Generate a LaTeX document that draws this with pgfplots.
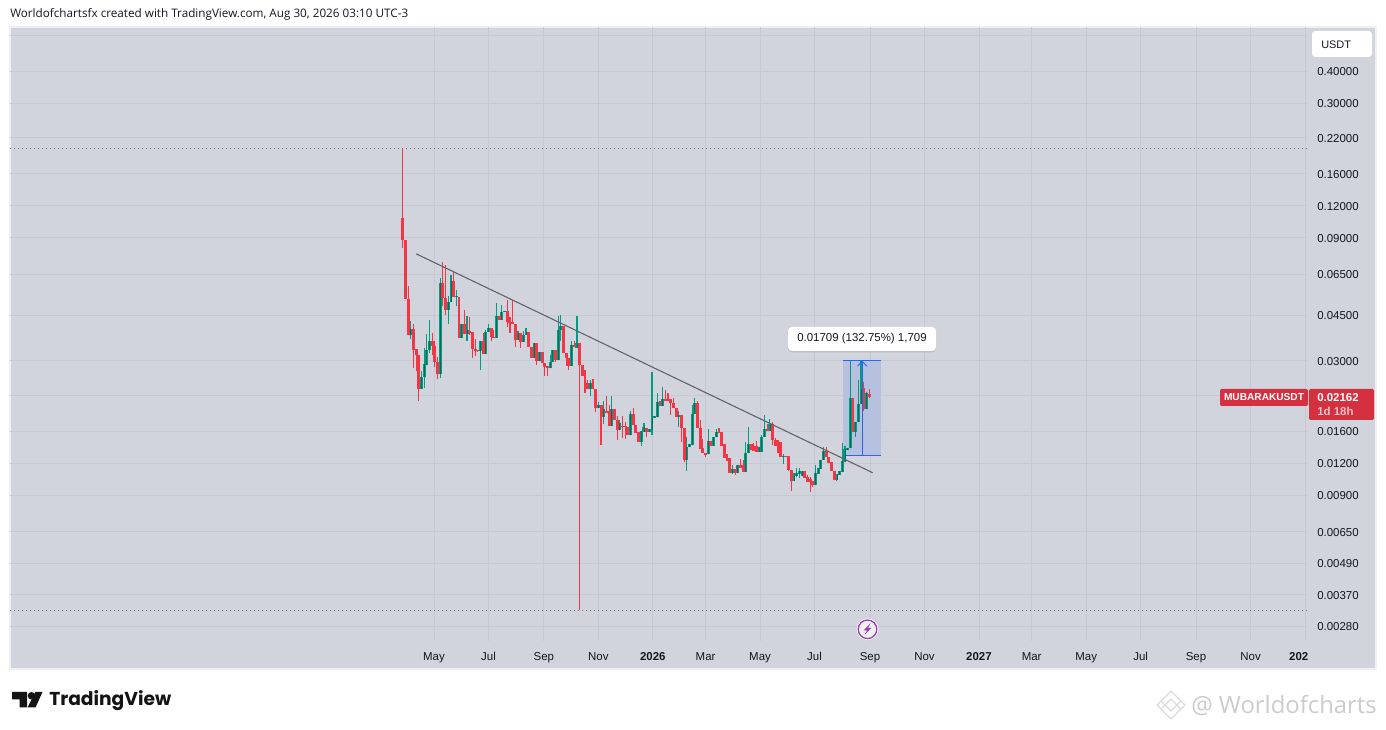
\documentclass[border=0pt]{standalone}
\usepackage{pgfplots}
\usepackage{pgfplotstable}
\pgfplotsset{compat=1.18}
\usepackage{fontspec}
\setmainfont{Liberation Sans}
\newfontfamily\tvfont{Poppins}
\newfontfamily\wmfont{Open Sans}
\usetikzlibrary{shadows,arrows.meta}
\definecolor{panel}{HTML}{D1D4DC}
\definecolor{gridc}{HTML}{C6C9D2}
\definecolor{txt}{HTML}{131722}
\definecolor{upc}{HTML}{089981}
\definecolor{updark}{HTML}{0A6A5C}
\definecolor{downc}{HTML}{F23645}
\definecolor{tagred}{HTML}{D5303F}
\definecolor{measure}{HTML}{2962FF}
\definecolor{boxfill}{HTML}{B6C1DF}
\definecolor{trend}{HTML}{5E6168}
\definecolor{bolt}{HTML}{9C3FB5}
% day = days since 1 May 2025; open high low close
\pgfplotstableread{
d O H L C
-26 .0376 .0428 .0365 .0398
-14 .0233 .0273 .0233 .0259
-11 .0259 .0336 .0236 .0291
-8 .0289 .0381 .0289 .0331
-5 .0329 .0432 .0322 .0358
7 .0266 .0631 .0257 .0600
16 .0473 .0537 .0418 .0507
19 .0505 .0647 .0505 .0611
25 .0532 .0566 .0490 .0537
31 .0369 .0418 .0369 .0418
37 .0382 .0446 .0359 .0393
52 .0327 .0358 .0277 .0358
58 .0318 .0396 .0318 .0389
61 .0389 .0418 .0389 .0403
70 .0369 .0503 .0369 .0449
76 .0433 .0495 .0433 .0465
79 .0465 .0469 .0465 .0469
94 .0362 .0390 .0362 .0385
100 .0355 .0392 .0355 .0379
103 .0379 .0403 .0379 .0388
112 .0308 .0350 .0308 .0350
118 .0298 .0324 .0298 .0324
130 .0280 .0317 .0280 .0296
133 .0296 .0330 .0296 .0330
139 .0303 .0449 .0303 .0393
142 .0393 .0452 .0357 .0410
154 .0286 .0359 .0286 .0345
160 .0336 .0449 .0336 .0350
175 .0232 .0253 .0218 .0246
184 .0196 .0208 .0196 .0202
190 .0182 .0209 .0171 .0194
199 .0167 .0219 .0167 .0195
208 .0162 .0177 .0162 .0172
220 .0154 .0192 .0154 .0187
232 .0145 .0160 .0140 .0160
235 .0159 .0172 .0159 .0166
241 .0159 .0163 .0159 .0163
244 .0162 .0272 .0154 .0180
247 .0180 .0183 .0180 .0183
250 .0181 .0224 .0181 .0208
256 .0200 .0237 .0200 .0213
274 .0182 .0191 .0166 .0184
283 .0124 .0152 .0112 .0139
286 .0139 .0143 .0139 .0143
289 .0141 .0202 .0141 .0187
292 .0187 .0215 .0187 .0205
307 .0130 .0163 .0130 .0146
313 .0140 .0151 .0140 .0151
316 .0151 .0163 .0151 .0159
334 .0110 .0118 .0109 .0114
340 .0110 .0118 .0110 .0118
349 .0111 .0145 .0111 .0132
352 .0132 .0166 .0132 .0143
364 .0133 .0139 .0133 .0139
367 .0133 .0154 .0133 .0151
370 .0151 .0185 .0151 .0163
376 .0160 .0178 .0160 .0170
391 .0127 .0130 .0119 .0128
403 .0102 .0110 .0102 .0107
406 .0107 .0115 .0106 .0110
409 .0109 .0115 .0105 .0112
412 .0107 .0112 .0107 .0112
427 .0099 .0118 .0099 .0110
430 .0109 .0115 .0109 .0115
433 .0114 .0124 .0114 .0124
436 .0124 .0139 .0124 .0134
451 .0103 .0109 .0102 .0109
454 .0108 .0112 .0108 .0112
457 .0111 .0144 .0111 .0122
460 .0121 .0140 .0121 .0136
463 .0135 .0137 .0135 .0137
466 .0137 .0299 .0137 .0214
472 .0158 .0174 .0152 .0174
475 .0174 .0253 .0174 .0204
478 .0204 .0299 .0204 .0233
484 .0195 .0227 .0195 .0225
}\upcandles
\pgfplotstableread{
d O H L C
-35 .1073 .2004 .0822 .0879
-32 .0885 .0885 .0521 .0521
-29 .0521 .0587 .0376 .0376
-23 .0398 .0418 .0282 .0329
-20 .0333 .0333 .0273 .0315
-17 .0315 .0315 .0209 .0233
-2 .0358 .0385 .0317 .0342
1 .0342 .0358 .0283 .0297
4 .0297 .0311 .0255 .0266
10 .0600 .0726 .0487 .0524
13 .0526 .0707 .0452 .0473
22 .0611 .0666 .0532 .0532
28 .0532 .0532 .0369 .0369
34 .0418 .0473 .0382 .0382
40 .0391 .0443 .0379 .0386
43 .0389 .0389 .0306 .0334
46 .0334 .0365 .0312 .0328
49 .0331 .0331 .0325 .0327
55 .0358 .0385 .0318 .0318
64 .0403 .0403 .0357 .0371
67 .0371 .0396 .0369 .0369
73 .0449 .0449 .0433 .0433
82 .0468 .0518 .0407 .0423
85 .0425 .0443 .0386 .0423
88 .0424 .0518 .0418 .0418
91 .0418 .0418 .0340 .0362
97 .0385 .0385 .0336 .0355
106 .0388 .0388 .0340 .0340
109 .0340 .0340 .0308 .0308
115 .0350 .0350 .0289 .0298
121 .0324 .0324 .0294 .0294
124 .0294 .0294 .0262 .0284
127 .0286 .0286 .0262 .0281
136 .0330 .0330 .0296 .0303
145 .0410 .0410 .0321 .0321
148 .0321 .0321 .0286 .0308
151 .0306 .0306 .0277 .0286
157 .0345 .0359 .0338 .0338
163 .0350 .0350 .00323 .0288
166 .0288 .0288 .0262 .0262
169 .0264 .0277 .0225 .0246
172 .0246 .0253 .0232 .0232
178 .0246 .0255 .0232 .0232
181 .0233 .0233 .0189 .0196
187 .0202 .0202 .0141 .0182
193 .0192 .0218 .0188 .0188
196 .0191 .0202 .0167 .0167
202 .0195 .0195 .0176 .0176
205 .0176 .0183 .0147 .0162
211 .0168 .0183 .0150 .0167
214 .0167 .0174 .0149 .0166
217 .0166 .0166 .0154 .0154
223 .0187 .0196 .0169 .0169
226 .0169 .0169 .0157 .0157
229 .0159 .0159 .0145 .0145
238 .0165 .0165 .0152 .0159
253 .0208 .0210 .0200 .0200
259 .0213 .0230 .0210 .0210
262 .0213 .0225 .0210 .0210
265 .0213 .0213 .0185 .0205
268 .0205 .0214 .0196 .0196
271 .0197 .0197 .0182 .0182
277 .0184 .0184 .0145 .0165
280 .0165 .0165 .0121 .0124
295 .0205 .0210 .0164 .0164
298 .0165 .0177 .0136 .0136
301 .0137 .0149 .0132 .0132
304 .0132 .0132 .0127 .0129
310 .0146 .0146 .0140 .0140
319 .0159 .0165 .0158 .0158
322 .0158 .0158 .0140 .0140
325 .0143 .0143 .0126 .0126
328 .0127 .0130 .0122 .0125
331 .0126 .0126 .0110 .0110
337 .0114 .0114 .0108 .0110
343 .0118 .0125 .0115 .0115
346 .0118 .0124 .0111 .0111
355 .0143 .0143 .0135 .0135
358 .0140 .0144 .0134 .0134
361 .0140 .0146 .0133 .0133
373 .0163 .0170 .0160 .0160
379 .0170 .0174 .0141 .0147
382 .0148 .0150 .0140 .0140
385 .0145 .0148 .0132 .0144
388 .0145 .0145 .0127 .0127
394 .0128 .0128 .0127 .0127
397 .0128 .0128 .0112 .0113
400 .0113 .0113 .0094 .0102
415 .0112 .0112 .0105 .0105
418 .0106 .0108 .0101 .0101
421 .0104 .0106 .0093 .0101
424 .0102 .0102 .0097 .0099
439 .0134 .0139 .0127 .0127
442 .0127 .0127 .0120 .0120
445 .0121 .0121 .0112 .0112
448 .0112 .0112 .0103 .0103
469 .0214 .0214 .0158 .0158
481 .0235 .0248 .0191 .0195
487 .0222 .0232 .0214 .02162
}\downcandles
\begin{document}
\begin{tikzpicture}
\fill[white] (0,0) rectangle (1039.5pt,547.5pt);
\begin{scope}[x=.75pt,y=-.75pt,yshift=547.5pt]
  \fill[panel] (10,27) rectangle (1376,669);
  \draw[color=black!6,line width=.8pt] (10,27) rectangle (1376,669);
\end{scope}
\begin{axis}[
  at={(7.5pt,66.75pt)},anchor=south west,
  scale only axis,width=972.75pt,height=460.5pt,
  ymode=log,
  xmin=-474.6,xmax=977.2,ymin=.002448,ymax=.5926,
  axis line style={draw=none},
  major tick style={draw=none},minor tick style={draw=none},
  grid=major,major grid style={color=gridc,line width=.6pt},
  xtick={0,61,123,184,245,304,365,426,488,549,610,669,730,791,853,914,975},
  xticklabels={May,Jul,Sep,Nov,\textbf{2026},Mar,May,Jul,Sep,Nov,\textbf{2027},Mar,May,Jul,Sep,Nov,\textbf{202}\hspace*{9.5pt}\null},
  ytick={.0028,.0037,.0049,.0065,.009,.012,.016,.022,.03,.045,.065,.09,.12,.16,.22,.30,.40,.55},
  yticklabels={0.00280,0.00370,0.00490,0.00650,0.00900,0.01200,0.01600,{},0.03000,0.04500,0.06500,0.09000,0.12000,0.16000,0.22000,0.30000,0.40000,{}},
  minor y tick num=0,
  yticklabel pos=right,
  y tick label style={font=\fontsize{8.6pt}{10pt}\selectfont,text=txt,anchor=west,inner sep=0pt,xshift=7.5pt,yshift=-.5pt},
  x tick label style={font=\fontsize{8.6pt}{10pt}\selectfont,text=txt,anchor=north,inner sep=0pt,yshift=-8.3pt},
  clip=true,
]
% dotted extreme price lines
\addplot[forget plot,color=black!55,line width=.6pt,dash pattern=on .75pt off 2.25pt] coordinates {(-474.6,.2004) (977.2,.2004)};
\addplot[forget plot,color=black!55,line width=.6pt,dash pattern=on .75pt off 2.25pt] coordinates {(-474.6,.00323) (977.2,.00323)};
% measure box
\addplot[forget plot,fill=boxfill,draw=none] coordinates {(457.5,.01288) (500,.01288) (500,.02997) (457.5,.02997)} -- cycle;
\addplot[forget plot,color=measure,line width=.9pt] coordinates {(457.5,.02997) (500,.02997)};
\addplot[forget plot,color=measure,line width=.9pt] coordinates {(457.5,.01288) (500,.01288)};
% candles
\addplot[forget plot,draw=none,mark=none,error bars/.cd,y dir=plus,y explicit,error mark=none,error bar style={color=upc,line width=.85pt}]
  table[x=d,y=L,y error expr=\thisrow{H}-\thisrow{L}] {\upcandles};
\addplot[forget plot,draw=none,mark=none,error bars/.cd,y dir=plus,y explicit,error mark=none,error bar style={color=upc,line width=2.2pt}]
  table[x=d,y=O,y error expr=\thisrow{C}-\thisrow{O}] {\upcandles};
\addplot[forget plot,draw=none,mark=none,error bars/.cd,y dir=plus,y explicit,error mark=none,error bar style={color=updark,line width=.6pt}]
  table[x=d,y=O,y error expr=\thisrow{C}-\thisrow{O}] {\upcandles};
\addplot[forget plot,draw=none,mark=none,error bars/.cd,y dir=plus,y explicit,error mark=none,error bar style={color=downc,line width=.85pt}]
  table[x=d,y=L,y error expr=\thisrow{H}-\thisrow{L}] {\downcandles};
\addplot[forget plot,draw=none,mark=none,error bars/.cd,y dir=plus,y explicit,error mark=none,error bar style={color=downc,line width=2.2pt}]
  table[x=d,y=C,y error expr=\thisrow{O}-\thisrow{C}] {\downcandles};
% trend line
\addplot[forget plot,color=trend,line width=.8pt] coordinates {(-20,.0780) (491,.01102)};
% measure arrow
\addplot[forget plot,color=measure,line width=.7pt,-{Straight Barb[length=3.5pt,width=7pt]}] coordinates {(479.4,.01288) (479.4,.02997)};
\end{axis}
\begin{scope}[x=.75pt,y=-.75pt,yshift=547.5pt]
  % title
  \node[anchor=west,inner sep=0pt,text=txt,font=\wmfont\fontsize{8.78pt}{10pt}\selectfont] at (10,14.5) {Worldofchartsfx created with TradingView.com, Aug 30, 2026 03:10 UTC-3};
  % USDT button
  \fill[white,rounded corners=2.5pt] (1312,31) rectangle (1372,57);
  \node[anchor=west,inner sep=0pt,text=txt,font=\fontsize{8.2pt}{10pt}\selectfont] at (1321,44.5) {USDT};
  % symbol + price tags
  \fill[tagred,rounded corners=1pt] (1220,389) rectangle (1308,406);
  \node[inner sep=0pt,text=white,font=\fontsize{7.6pt}{10pt}\selectfont\bfseries] at (1264,397.5) {MUBARAKUSDT};
  \fill[tagred,rounded corners=1pt] (1309,389) rectangle (1374,420);
  \node[anchor=west,inner sep=0pt,text=white,font=\fontsize{8.6pt}{10pt}\selectfont\bfseries] at (1317,397.5) {0.02162};
  \node[anchor=west,inner sep=0pt,text=white!70!tagred,font=\fontsize{8.6pt}{10pt}\selectfont\bfseries] at (1317,411.5) {1d 18h};
  % measure label
  \fill[white,rounded corners=3pt,drop shadow={shadow xshift=0pt,shadow yshift=-1pt,opacity=.25}] (788,327) rectangle (936,351);
  \node[inner sep=0pt,text=txt,font=\fontsize{8.6pt}{10pt}\selectfont] at (862,339) {0.01709 (132.75\%) 1,709};
  % lightning badge
  \fill[white] (867.5,629.3) circle (10.8);
  \draw[color=bolt,line width=1pt,fill=black!6] (867.5,629.3) circle (9.3);
  \fill[color=bolt] (870.5,623.5) -- (863.5,630.5) -- (867,630.5) -- (864.5,635) -- (871.5,628) -- (868,628) -- cycle;
  % TradingView logo
  \fill[black!92] (12,692) -- (27,692) -- (27,707.5) -- (19.5,707.5) -- (19.5,699.5) -- (12,699.5) -- cycle;
  \fill[black!92] (31.5,695.8) circle (3.8);
  \fill[black!92] (35.5,692) -- (42.5,692) -- (35.5,707.5) -- (27.5,707.5) -- cycle;
  \node[anchor=base west,inner sep=0pt,text=black!92,font=\tvfont\fontsize{14pt}{18pt}\selectfont\bfseries] at (49,706) {TradingView};
  % watermark
  \begin{scope}[color=black!14,line width=.9pt]
    \draw (1171,691) -- (1185,705) -- (1171,719) -- (1157,705) -- cycle;
    \draw (1171,699) -- (1177,705) -- (1171,711) -- (1165,705) -- cycle;
    \draw (1161,701) -- (1165,705) -- (1161,709);
    \draw (1181,701) -- (1177,705) -- (1181,709);
  \end{scope}
  \node[anchor=west,inner sep=0pt,text=black!20,font=\wmfont\fontsize{17.9pt}{20pt}\selectfont] at (1191,705) {@ Worldofcharts};
\end{scope}
\end{tikzpicture}
\end{document}
